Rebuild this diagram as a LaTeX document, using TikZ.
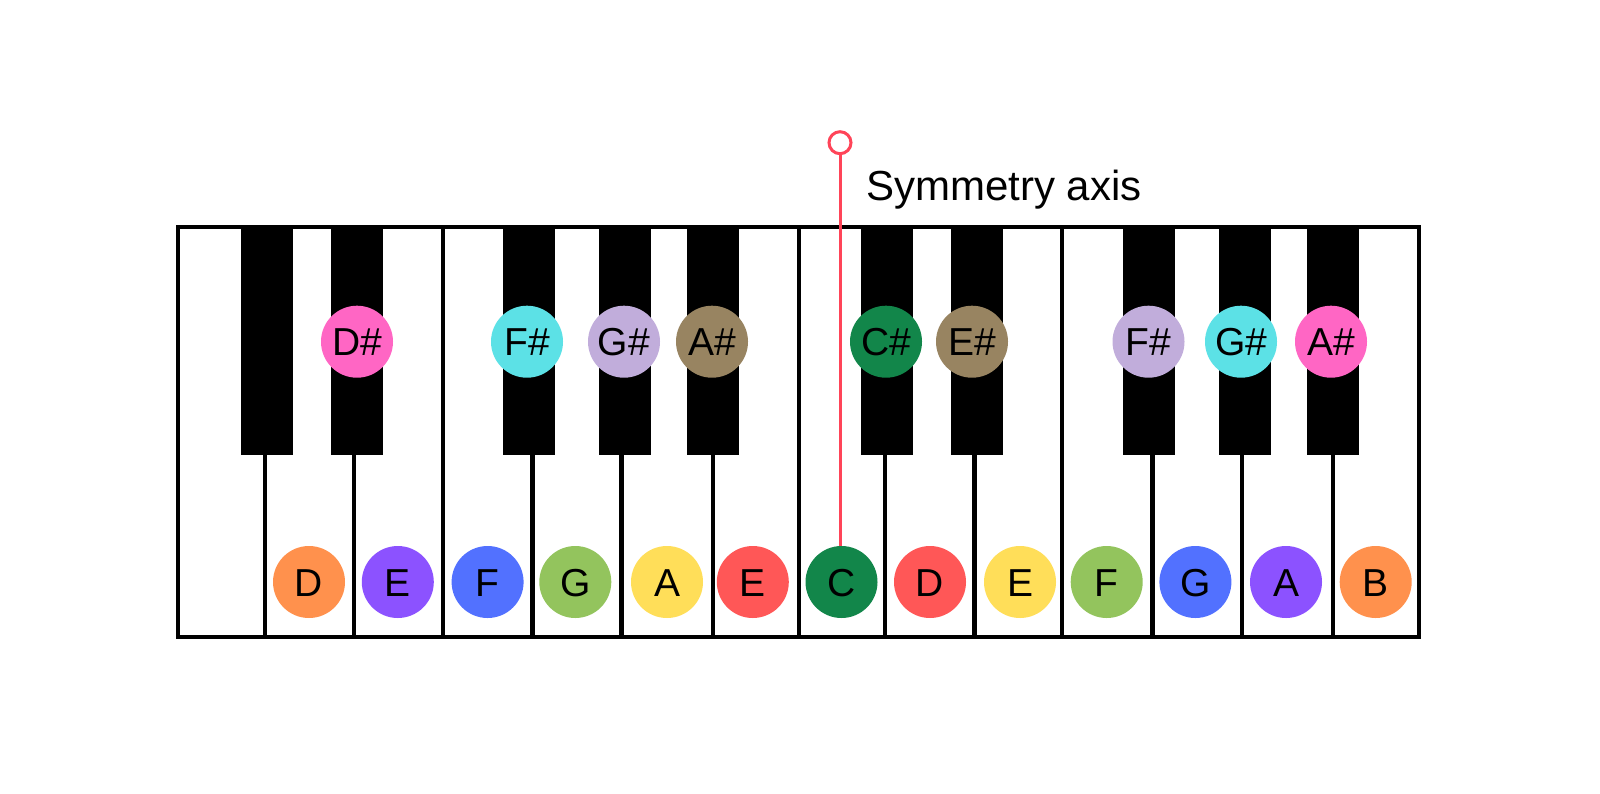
\documentclass[tikz,border=0pt]{standalone}
\usepackage{fontspec}
\setmainfont{Liberation Sans}
\definecolor{notepink}{HTML}{FF66C4}
\definecolor{notecyan}{HTML}{5CE1E6}
\definecolor{notelilac}{HTML}{C1ADDB}
\definecolor{notetan}{HTML}{988461}
\definecolor{notegreen}{HTML}{12864A}
\definecolor{noteorange}{HTML}{FF914D}
\definecolor{notepurple}{HTML}{8C52FF}
\definecolor{noteblue}{HTML}{5271FF}
\definecolor{notelime}{HTML}{93C45D}
\definecolor{noteyellow}{HTML}{FFDE59}
\definecolor{notered}{HTML}{FF5757}
\definecolor{axisred}{HTML}{FF4458}
\tikzset{
    note/.style={
        circle,
        minimum size=72pt,
        inner sep=0pt,
        text height=28pt,
        text depth=0pt,
        font=\fontsize{39}{42}\selectfont,
    },
    blackkey/.style={
        fill=black,
        minimum width=52pt,
        minimum height=228pt,
        inner sep=0pt,
        anchor=north,
    },
    keyline/.style={line width=4.5pt},
    axisline/.style={draw=axisred, line width=3pt},
}

\begin{document}
\begin{tikzpicture}[x=1pt, y=-1pt]
   \useasboundingbox (0,0) rectangle (1600,793);
   \fill[white] (0,0) rectangle (1600,793);
   % white keys
   \draw[keyline] (265,455) -- (265,637);
   \draw[keyline] (354,455) -- (354,637);
   \draw[keyline] (443,227) -- (443,637);
   \draw[keyline] (532.5,455) -- (532.5,637);
   \draw[keyline] (621.5,455) -- (621.5,637);
   \draw[keyline] (713,455) -- (713,637);
   \draw[keyline] (799,227) -- (799,637);
   \draw[keyline] (885,455) -- (885,637);
   \draw[keyline] (974.5,455) -- (974.5,637);
   \draw[keyline] (1062,227) -- (1062,637);
   \draw[keyline] (1152.5,455) -- (1152.5,637);
   \draw[keyline] (1242,455) -- (1242,637);
   \draw[keyline] (1333,455) -- (1333,637);
   % black keys
   \node[blackkey] (kc1) at (266.7,227) {};
   \node[blackkey] (kd1) at (356.5,227) {};
   \node[blackkey] (kf1) at (529,227) {};
   \node[blackkey] (kg1) at (625,227) {};
   \node[blackkey] (ka1) at (713,227) {};
   \node[blackkey] (kc2) at (887,227) {};
   \node[blackkey] (kd2) at (977,227) {};
   \node[blackkey] (kf2) at (1149,227) {};
   \node[blackkey] (kg2) at (1245,227) {};
   \node[blackkey] (ka2) at (1333,227) {};
   \draw[keyline] (178,227) rectangle (1419,637);
   % symmetry axis
   \node[circle, axisline, fill=white, minimum size=22pt, inner sep=0pt] (pin) at (840,142.7) {};
   \node[anchor=base west, inner sep=0pt, font=\fontsize{42}{45}\selectfont] (axislabel) at (866,200) {Symmetry axis};
   % sharps
   \node[note, fill=notepink] (ds1) at (357,341.7) {D\#};
   \node[note, fill=notecyan] (fs1) at (527,341.7) {F\#};
   \node[note, fill=notelilac] (gs1) at (624,341.7) {G\#};
   \node[note, fill=notetan] (as1) at (712,341.7) {A\#};
   \node[note, fill=notegreen] (cs2) at (886,341.7) {C\#};
   \node[note, fill=notetan] (es2) at (972,341.7) {E\#};
   \node[note, fill=notelilac] (fs2) at (1148.5,341.7) {F\#};
   \node[note, fill=notecyan] (gs2) at (1241,341.7) {G\#};
   \node[note, fill=notepink] (as2) at (1331,341.7) {A\#};
   % naturals
   \node[note, fill=noteorange] (d1) at (309,582) {D};
   \node[note, fill=notepurple] (e1) at (397.8,582) {E};
   \node[note, fill=noteblue] (f1) at (487.6,582) {F};
   \node[note, fill=notelime] (g1) at (575.3,582) {G};
   \node[note, fill=noteyellow] (a1) at (667,582) {A};
   \node[note, fill=notered] (b1) at (752.8,582) {E};
   \node[note, fill=notegreen] (c2) at (841.5,582) {C};
   \node[note, fill=notered] (d2) at (930,582) {D};
   \node[note, fill=noteyellow] (e2) at (1020,582) {E};
   \node[note, fill=notelime] (f2) at (1106.7,582) {F};
   \node[note, fill=noteblue] (g2) at (1195.4,582) {G};
   \node[note, fill=notepurple] (a2) at (1286,582) {A};
   \node[note, fill=noteorange] (b2) at (1375.7,582) {B};
   \draw[axisline] (pin.south) -- (pin.south |- c2.north);
\end{tikzpicture}
\end{document}
